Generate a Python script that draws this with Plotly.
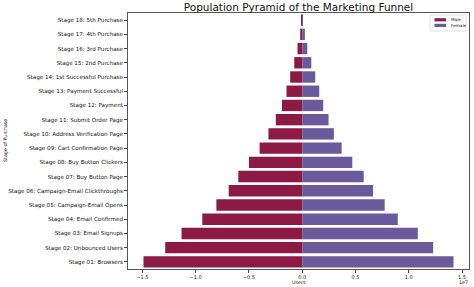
import plotly.graph_objects as go

stages = [
    "Stage 01: Browsers", "Stage 02: Unbounced Users", "Stage 03: Email Signups",
    "Stage 04: Email Confirmed", "Stage 05: Campaign-Email Opens",
    "Stage 06: Campaign-Email Clickthroughs", "Stage 07: Buy Button Page",
    "Stage 08: Buy Button Clickers", "Stage 09: Cart Confirmation Page",
    "Stage 10: Address Verification Page", "Stage 11: Submit Order Page",
    "Stage 12: Payment", "Stage 13: Payment Successful",
    "Stage 14: 1st Successful Purchase", "Stage 15: 2nd Purchase",
    "Stage 16: 3rd Purchase", "Stage 17: 4th Purchase", "Stage 18: 5th Purchase",
]
male = [-14900000, -12860000, -11330000, -9380000, -8060000, -6900000, -6000000,
        -5000000, -4000000, -3170000, -2480000, -1900000, -1480000, -1130000,
        -750000, -440000, -190000, -40000]
female = [14200000, 12290000, 10850000, 8970000, 7740000, 6650000, 5770000,
          4700000, 3700000, 2970000, 2470000, 1970000, 1600000, 1220000,
          850000, 470000, 250000, 30000]
xtick_vals = [-15000000, -10000000, -5000000, 0, 5000000, 10000000, 15000000]
xtick_text = ["\u22121.5", "\u22121.0", "\u22120.5", "0.0", "0.5", "1.0", "1.5"]

male_color = "#8c1a45"
female_color = "#6a5a9c"
font = "DejaVu Sans"
txt = "#111111"

W, H = 474, 287
L, R, T, B = 128, 5, 13, 18
PW, PH = W - L - R, H - T - B

fig = go.Figure()
fig.add_trace(go.Bar(y=stages, x=male, orientation="h", name="Male",
                     marker=dict(color=male_color, line=dict(width=0)), width=0.8))
fig.add_trace(go.Bar(y=stages, x=female, orientation="h", name="Female",
                     marker=dict(color=female_color, line=dict(width=0)), width=0.8))

fig.update_layout(
    width=W, height=H,
    barmode="relative",
    margin=dict(l=L, r=R, t=T, b=B, autoexpand=False),
    paper_bgcolor="white", plot_bgcolor="white",
    font=dict(family=font, color=txt),
    title=dict(text="Population Pyramid of the Marketing Funnel",
               font=dict(size=10.5, family=font, color=txt),
               x=(L + PW / 2) / W, xanchor="center",
               y=1 - 7.5 / H, yanchor="middle", pad=dict(t=0, b=0)),
    showlegend=False,
    xaxis=dict(range=[-16355000, 15655000], tickvals=xtick_vals, ticktext=xtick_text,
               tickfont=dict(size=5, family=font, color=txt), ticks="outside", ticklen=3,
               tickcolor="#444", showgrid=False, zeroline=False, automargin=False,
               showline=True, linecolor="#555", linewidth=0.8, mirror=True),
    yaxis=dict(type="category", categoryorder="array", categoryarray=stages,
               range=[-0.5, 17.5], tickfont=dict(size=5.6, family=font, color=txt),
               ticks="outside", ticklen=3, tickcolor="#444", showgrid=False,
               automargin=False, zeroline=False, showline=True, linecolor="#555",
               linewidth=0.8, mirror=True),
)

# axis titles and offset text
fig.add_annotation(text="Users", x=0.5, xref="paper", y=-13 / PH, yref="paper",
                   yanchor="middle", showarrow=False, font=dict(size=4.8, family=font, color=txt))
fig.add_annotation(text="1e7", x=1.0 + 1 / PW, xref="paper", y=-13.5 / PH, yref="paper",
                   yanchor="middle", xanchor="right", showarrow=False,
                   font=dict(size=4.8, family=font, color=txt))
fig.add_annotation(text="Stage of Purchase", x=-(L - 5) / PW, xref="paper", xanchor="center",
                   y=0.5, yref="paper", yanchor="middle",
                   textangle=-90, showarrow=False, font=dict(size=4.8, family=font, color=txt))

# legend drawn manually (small matplotlib-style box)
def px_x(px):
    return (px - L) / PW

def px_y(py):
    return 1 - (py - T) / PH

fig.add_shape(type="rect", xref="paper", yref="paper",
              x0=px_x(430), x1=px_x(466), y0=px_y(31), y1=px_y(15),
              line=dict(color="#cccccc", width=0.6), fillcolor="white")
for name, col, yc in [("Male", male_color, 19.8), ("Female", female_color, 25.4)]:
    fig.add_shape(type="rect", xref="paper", yref="paper",
                  x0=px_x(434.5), x1=px_x(446), y0=px_y(yc + 1.6), y1=px_y(yc - 1.6),
                  line=dict(width=0), fillcolor=col)
    fig.add_annotation(text=name, x=px_x(448.5), xref="paper", xanchor="left",
                       y=px_y(yc), yref="paper", yanchor="middle", showarrow=False,
                       font=dict(size=4.2, family=font, color=txt))

fig.write_html("out.html")
